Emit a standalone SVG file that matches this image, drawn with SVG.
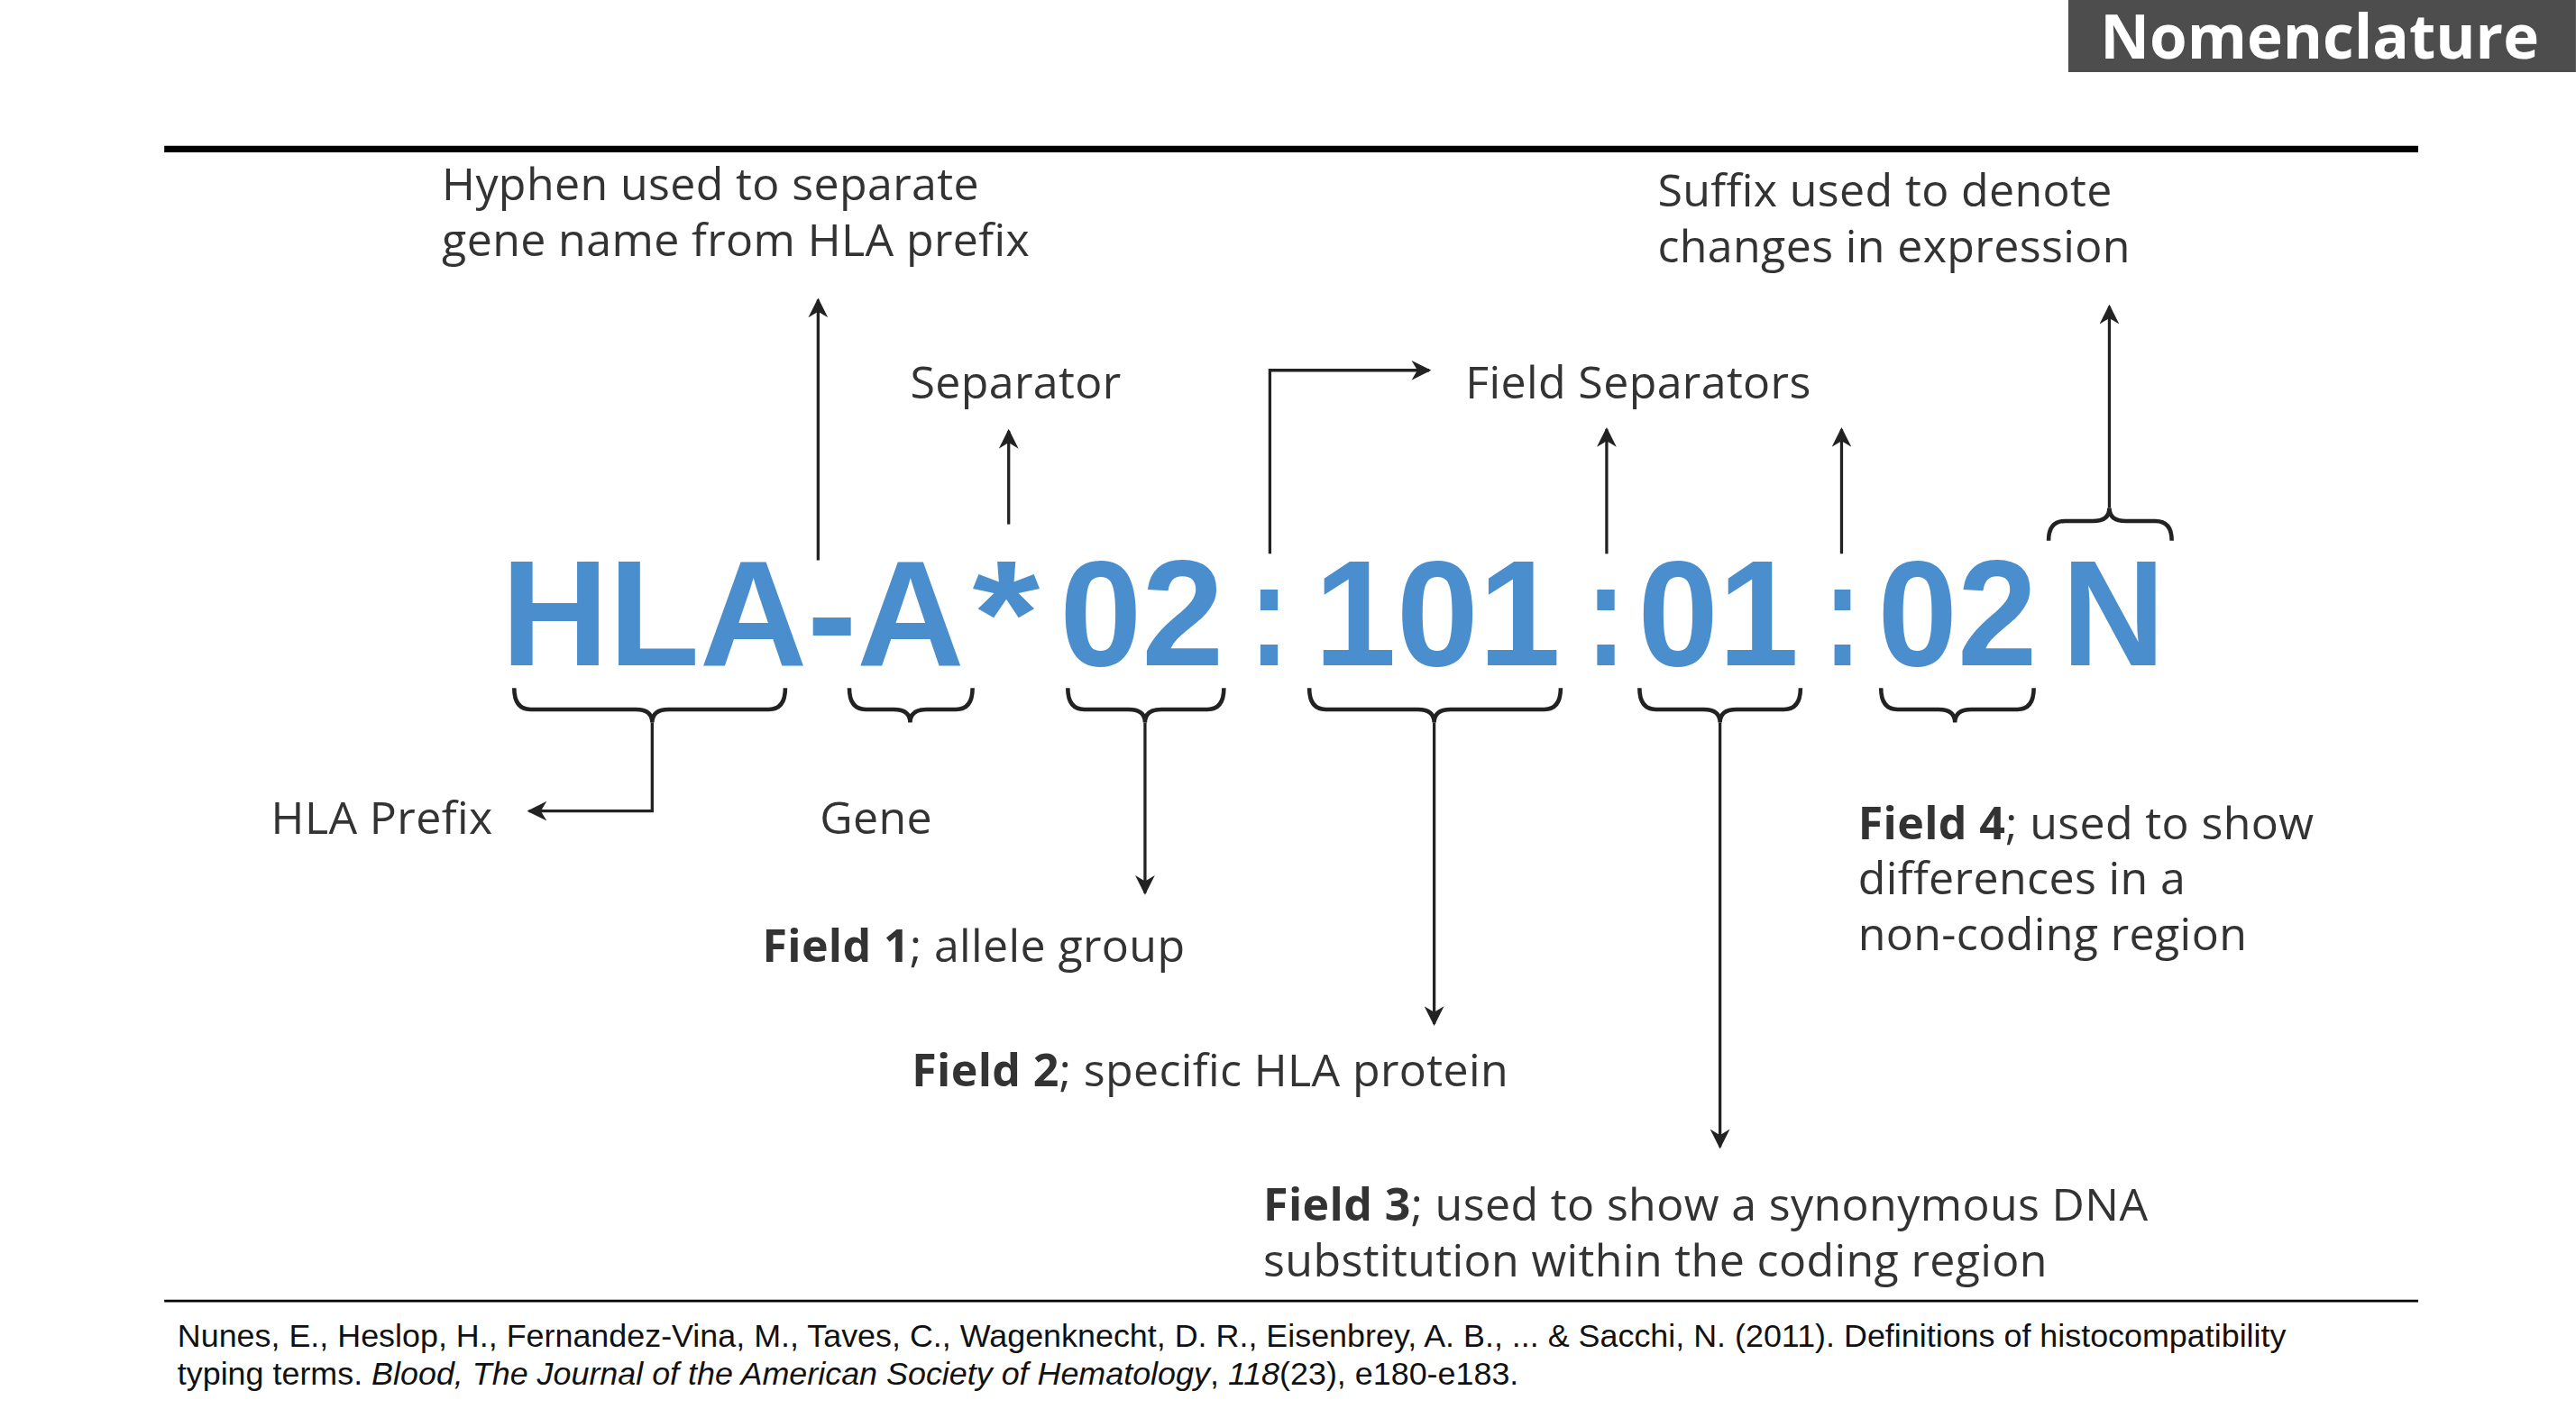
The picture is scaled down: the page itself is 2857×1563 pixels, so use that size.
<svg xmlns="http://www.w3.org/2000/svg" width="2857" height="1563" viewBox="0 0 2857 1563">
<style>
.lbl{font-family:"Open Sans","Noto Sans",sans-serif;font-size:27.5px;fill:#333;letter-spacing:0.2px}
.big{font-family:"Liberation Sans",Arial,sans-serif;font-weight:bold;font-size:92px;fill:#4b8ecd}
.ln{fill:none;stroke:#222;stroke-width:1.8}
.br{fill:none;stroke:#222;stroke-width:2.5}
.cit{font-family:"Liberation Sans",Arial,sans-serif;font-size:19.7px;fill:#111}
</style>
<defs>
<marker id="ah" viewBox="0 0 10 10" refX="9" refY="5" markerWidth="14" markerHeight="12" markerUnits="userSpaceOnUse" orient="auto"><path d="M0,0 L10,5 L0,10 L3,5 z" fill="#222"/></marker>
</defs>
<rect width="2857" height="1563" fill="#fff"/>
<g transform="scale(1.822,1.8175)">
<g id="title"><rect x="1259" y="0" width="309" height="44" fill="#4d4d4d"/><text x="1412" y="36" text-anchor="middle" font-family="'Open Sans','Noto Sans',sans-serif" font-weight="bold" font-size="37" fill="#fff">Nomenclature</text></g>
<line x1="100" y1="91" x2="1472" y2="91" stroke="#000" stroke-width="4"/>
<line x1="100" y1="794" x2="1472" y2="794" stroke="#000" stroke-width="1.5"/>
<g id="code">
<text class="big" x="305" y="406" textLength="282" lengthAdjust="spacingAndGlyphs">HLA-A</text>
<text class="big" x="592" y="406" textLength="41" lengthAdjust="spacingAndGlyphs">*</text>
<text class="big" x="645" y="406" textLength="100" lengthAdjust="spacingAndGlyphs">02</text>
<text class="big" x="760" y="406" textLength="25" lengthAdjust="spacingAndGlyphs">:</text>
<text class="big" x="800" y="406" textLength="150" lengthAdjust="spacingAndGlyphs">101</text>
<text class="big" x="965" y="406" textLength="25" lengthAdjust="spacingAndGlyphs">:</text>
<text class="big" x="997" y="406" textLength="98" lengthAdjust="spacingAndGlyphs">01</text>
<text class="big" x="1110" y="406" textLength="23" lengthAdjust="spacingAndGlyphs">:</text>
<text class="big" x="1143" y="406" textLength="97" lengthAdjust="spacingAndGlyphs">02</text>
<text class="big" x="1255" y="406" textLength="63" lengthAdjust="spacingAndGlyphs">N</text>
</g>
<g id="braces">
<path class="br" d="M313,420 Q313,433 323,433 L387,433 Q397,433 397,441 Q397,433 407,433 L468,433 Q478,433 478,420"/>
<path class="br" d="M517,420 Q517,433 527,433 L544,433 Q554,433 554,441 Q554,433 564,433 L582,433 Q592,433 592,420"/>
<path class="br" d="M650,420 Q650,433 660,433 L687,433 Q697,433 697,441 Q697,433 707,433 L735,433 Q745,433 745,420"/>
<path class="br" d="M797,420 Q797,433 807,433 L863,433 Q873,433 873,441 Q873,433 883,433 L940,433 Q950,433 950,420"/>
<path class="br" d="M998,420 Q998,433 1008,433 L1037,433 Q1047,433 1047,441 Q1047,433 1057,433 L1086,433 Q1096,433 1096,420"/>
<path class="br" d="M1145,420 Q1145,433 1155,433 L1180,433 Q1190,433 1190,441 Q1190,433 1200,433 L1228,433 Q1238,433 1238,420"/>
<path class="br" d="M1247,330 Q1247,318 1257,318 L1274,318 Q1284,318 1284,310 Q1284,318 1294,318 L1312,318 Q1322,318 1322,330"/>
</g>
<g id="connectors">
<path class="ln" d="M397,441 L397,495 L322,495" marker-end="url(#ah)"/>
<path class="ln" d="M697,441 L697,545" marker-end="url(#ah)"/>
<path class="ln" d="M873,441 L873,625" marker-end="url(#ah)"/>
<path class="ln" d="M1047,441 L1047,700" marker-end="url(#ah)"/>
<path class="ln" d="M498,342 L498,183" marker-end="url(#ah)"/>
<path class="ln" d="M614,320 L614,263" marker-end="url(#ah)"/>
<path class="ln" d="M773,338 L773,226 L870,226" marker-end="url(#ah)"/>
<path class="ln" d="M978,338 L978,262" marker-end="url(#ah)"/>
<path class="ln" d="M1121,338 L1121,262" marker-end="url(#ah)"/>
<path class="ln" d="M1284,310 L1284,187" marker-end="url(#ah)"/>
</g>
<g id="hyphen"><text class="lbl" x="269" y="122">Hyphen used to separate</text><text class="lbl" x="269" y="156">gene name from HLA prefix</text></g>
<g id="separator"><text class="lbl" x="554" y="243">Separator</text></g>
<g id="fieldsep"><text class="lbl" x="892" y="243">Field Separators</text></g>
<g id="suffix"><text class="lbl" x="1009" y="126">Suffix used to denote</text><text class="lbl" x="1009" y="160">changes in expression</text></g>
<g id="prefix"><text class="lbl" x="165" y="509">HLA Prefix</text></g>
<g id="gene"><text class="lbl" x="499" y="509">Gene</text></g>
<g id="field1"><text class="lbl" x="464" y="587"><tspan font-weight="bold">Field 1</tspan>; allele group</text></g>
<g id="field2"><text class="lbl" x="555" y="663"><tspan font-weight="bold">Field 2</tspan>; specific HLA protein</text></g>
<g id="field3"><text class="lbl" x="769" y="745"><tspan font-weight="bold">Field 3</tspan>; used to show a synonymous DNA</text><text class="lbl" x="769" y="779">substitution within the coding region</text></g>
<g id="field4"><text class="lbl" x="1131" y="512"><tspan font-weight="bold">Field 4</tspan>; used to show</text><text class="lbl" x="1131" y="546">differences in a</text><text class="lbl" x="1131" y="580">non-coding region</text></g>
<g id="citation"><text class="cit" x="108" y="822">Nunes, E., Heslop, H., Fernandez-Vina, M., Taves, C., Wagenknecht, D. R., Eisenbrey, A. B., ... &amp; Sacchi, N. (2011). Definitions of histocompatibility</text><text class="cit" x="108" y="845">typing terms. <tspan font-style="italic">Blood, The Journal of the American Society of Hematology</tspan>, <tspan font-style="italic">118</tspan>(23), e180-e183.</text></g>
</g>
</svg>
